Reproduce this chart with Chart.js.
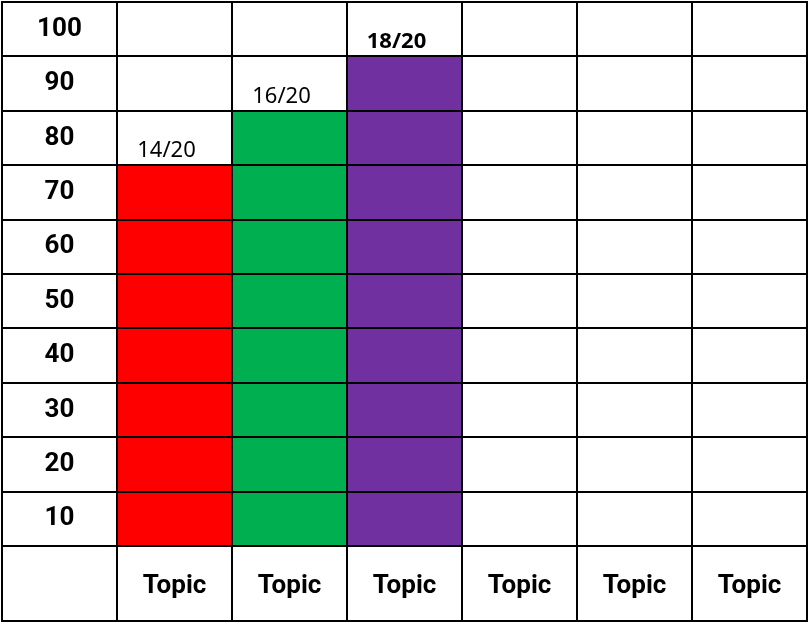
<!DOCTYPE html>
<html><head><meta charset="utf-8">
<script src="https://cdn.jsdelivr.net/npm/chart.js@4"></script>
<style>html,body{margin:0;padding:0;background:#fff}#wrap{width:811px;height:626px}</style>
</head><body><div id="wrap"><canvas id="c"></canvas></div>
<script>
const topics = ['Topic', 'Topic', 'Topic', 'Topic', 'Topic', 'Topic'];
const percentValues = [70, 80, 90, null, null, null];
const scoreLabels = ['14/20', '16/20', '18/20'];
const scoreBold = [false, false, true];
const rowLabels = ['100', '90', '80', '70', '60', '50', '40', '30', '20', '10'];
const barColors = ['#FF0000', '#00B050', '#7030A0', '#FFFFFF', '#FFFFFF', '#FFFFFF'];

const NARROW = "'Liberation Sans Narrow', 'Roboto', sans-serif";
const colWidth = 115;
const rowLabelSize = 26;
const mctx = document.createElement('canvas').getContext('2d');
mctx.font = 'bold ' + rowLabelSize + 'px ' + NARROW;
const widest = Math.max(...rowLabels.map(t => mctx.measureText(t).width));

const framePlugin = {
  id: 'frame',
  afterDraw(chart) {
    const ctx = chart.ctx, ca = chart.chartArea;
    const ys = chart.scales.y, xs = chart.scales.x;
    ctx.save();
    ctx.strokeStyle = '#000';
    ctx.lineWidth = 2;
    ctx.strokeRect(ys.left, ca.top, ca.right - ys.left, xs.bottom - ca.top);
    ctx.beginPath();
    ctx.moveTo(ys.left, ca.bottom); ctx.lineTo(ca.right, ca.bottom);
    ctx.stroke();
    ctx.restore();
  }
};

const scorePlugin = {
  id: 'scores',
  afterDraw(chart) {
    const ctx = chart.ctx;
    const meta = chart.getDatasetMeta(0);
    ctx.save();
    ctx.fillStyle = '#000';
    ctx.textAlign = 'center';
    ctx.textBaseline = 'alphabetic';
    scoreLabels.forEach((t, i) => {
      const bar = meta.data[i];
      ctx.font = (scoreBold[i] ? 'bold ' : '') + "22px 'Noto Sans', 'Open Sans', sans-serif";
      ctx.fillText(t, bar.x - 8, bar.y - 8);
    });
    ctx.restore();
  }
};

new Chart(document.getElementById('c'), {
  type: 'bar',
  data: {
    labels: topics,
    datasets: [{
      data: percentValues,
      yAxisID: 'yv',
      backgroundColor: barColors,
      borderWidth: 0,
      barPercentage: 1,
      categoryPercentage: 1
    }]
  },
  options: {
    responsive: true,
    maintainAspectRatio: false,
    animation: false,
    layout: { padding: { left: 2, top: 2, right: 4, bottom: 5 } },
    plugins: { legend: { display: false }, tooltip: { enabled: false } },
    scales: {
      x: {
        type: 'category',
        position: 'bottom',
        offset: true,
        grid: { offset: true, color: '#000', lineWidth: 2, drawTicks: true, tickLength: 75, z: 1 },
        border: { display: true, color: '#000', width: 2, z: 1 },
        ticks: {
          color: '#000', padding: -50, maxRotation: 0, autoSkip: false, z: 1,
          font: { family: NARROW, size: rowLabelSize, weight: 'bold' }
        },
        afterFit(s) { s.height = 75; }
      },
      y: {
        type: 'category',
        position: 'left',
        labels: rowLabels,
        offset: true,
        grid: { offset: true, color: '#000', lineWidth: 2, drawTicks: true, tickLength: colWidth, z: 1 },
        border: { display: true, color: '#000', width: 2, z: 1 },
        ticks: {
          color: '#000', crossAlign: 'center', autoSkip: false, z: 1,
          padding: -(colWidth / 2 + widest / 2),
          font: { family: NARROW, size: rowLabelSize, weight: 'bold' }
        },
        afterFit(s) { s.width = colWidth; }
      },
      yv: {
        type: 'linear',
        position: 'left',
        display: false,
        min: 0,
        max: 100
      }
    }
  },
  plugins: [framePlugin, scorePlugin]
});
</script>
</body></html>
